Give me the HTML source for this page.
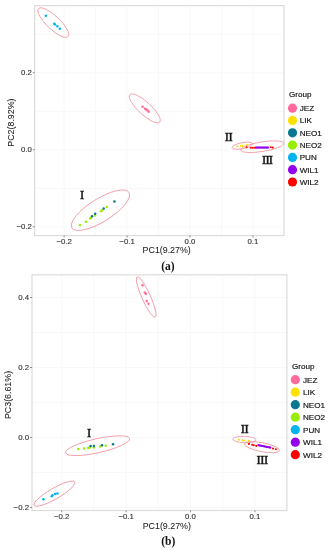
<!DOCTYPE html>
<html><head><meta charset="utf-8"><title>PCA plots</title>
<style>
html,body{margin:0;padding:0;background:#fff;}
body{width:329px;height:550px;overflow:hidden;}
svg{display:block;}
.tk{font-family:"Liberation Sans", Arial, sans-serif;font-size:7.8px;fill:#333333;stroke:#333333;stroke-width:0.12px;}
.at{font-family:"Liberation Sans", Arial, sans-serif;font-size:8.85px;fill:#1a1a1a;stroke:#1a1a1a;stroke-width:0.05px;}
.lg{font-family:"Liberation Sans", Arial, sans-serif;font-size:8.1px;fill:#151515;stroke:#151515;stroke-width:0.18px;}
.rn{font-family:"Liberation Serif", "Times New Roman", serif;font-size:12.6px;fill:#111;stroke:#111;stroke-width:0.45px;}
.pl{font-family:"Liberation Serif", "Times New Roman", serif;font-size:11.5px;fill:#111;font-weight:bold;}
</style></head><body>
<svg width="329" height="550" viewBox="0 0 329 550">
<rect width="329" height="550" fill="#fff"/>
<line x1="95.61" y1="5.6" x2="95.61" y2="235.6" stroke="#F6F6F6" stroke-width="0.8"/>
<line x1="158.53" y1="5.6" x2="158.53" y2="235.6" stroke="#F6F6F6" stroke-width="0.8"/>
<line x1="221.47" y1="5.6" x2="221.47" y2="235.6" stroke="#F6F6F6" stroke-width="0.8"/>
<line x1="34.6" y1="34.25" x2="284.0" y2="34.25" stroke="#F6F6F6" stroke-width="0.8"/>
<line x1="34.6" y1="111.25" x2="284.0" y2="111.25" stroke="#F6F6F6" stroke-width="0.8"/>
<line x1="34.6" y1="188.25" x2="284.0" y2="188.25" stroke="#F6F6F6" stroke-width="0.8"/>
<line x1="64.14" y1="5.6" x2="64.14" y2="235.6" stroke="#F6F6F6" stroke-width="0.8"/>
<line x1="127.07" y1="5.6" x2="127.07" y2="235.6" stroke="#F6F6F6" stroke-width="0.8"/>
<line x1="190.0" y1="5.6" x2="190.0" y2="235.6" stroke="#F6F6F6" stroke-width="0.8"/>
<line x1="252.93" y1="5.6" x2="252.93" y2="235.6" stroke="#F6F6F6" stroke-width="0.8"/>
<line x1="34.6" y1="72.75" x2="284.0" y2="72.75" stroke="#F6F6F6" stroke-width="0.8"/>
<line x1="34.6" y1="149.75" x2="284.0" y2="149.75" stroke="#F6F6F6" stroke-width="0.8"/>
<line x1="34.6" y1="226.75" x2="284.0" y2="226.75" stroke="#F6F6F6" stroke-width="0.8"/>
<rect x="34.6" y="5.6" width="249.4" height="230.0" fill="none" stroke="#DCDCDC" stroke-width="1.2"/>
<line x1="64.14" y1="235.6" x2="64.14" y2="237.4" stroke="#555" stroke-width="0.7"/>
<text x="64.14" y="243.8" text-anchor="middle" class="tk">&#8722;0.2</text>
<line x1="127.07" y1="235.6" x2="127.07" y2="237.4" stroke="#555" stroke-width="0.7"/>
<text x="127.07" y="243.8" text-anchor="middle" class="tk">&#8722;0.1</text>
<line x1="190.0" y1="235.6" x2="190.0" y2="237.4" stroke="#555" stroke-width="0.7"/>
<text x="190.0" y="243.8" text-anchor="middle" class="tk">0.0</text>
<line x1="252.93" y1="235.6" x2="252.93" y2="237.4" stroke="#555" stroke-width="0.7"/>
<text x="252.93" y="243.8" text-anchor="middle" class="tk">0.1</text>
<line x1="32.800000000000004" y1="72.75" x2="34.6" y2="72.75" stroke="#555" stroke-width="0.7"/>
<text x="31.9" y="75.35" text-anchor="end" class="tk">0.2</text>
<line x1="32.800000000000004" y1="149.75" x2="34.6" y2="149.75" stroke="#555" stroke-width="0.7"/>
<text x="31.9" y="152.35" text-anchor="end" class="tk">0.0</text>
<line x1="32.800000000000004" y1="226.75" x2="34.6" y2="226.75" stroke="#555" stroke-width="0.7"/>
<text x="31.9" y="229.35" text-anchor="end" class="tk">&#8722;0.2</text>
<text x="142.6" y="252.6" class="at">PC1(9.27%)</text>
<text transform="translate(14.4,122.6) rotate(-90)" text-anchor="middle" class="at">PC2(8.92%)</text>
<ellipse cx="53.3" cy="22.6" rx="20.3" ry="6.6" transform="rotate(43.5 53.3 22.6)" fill="none" stroke="#F08A96" stroke-width="0.75"/>
<ellipse cx="144.8" cy="108.4" rx="20.2" ry="6.3" transform="rotate(42.6 144.8 108.4)" fill="none" stroke="#F08A96" stroke-width="0.75"/>
<ellipse cx="100.5" cy="210.2" rx="33.6" ry="11.5" transform="rotate(-31.9 100.5 210.2)" fill="none" stroke="#F08A96" stroke-width="0.75"/>
<ellipse cx="242.2" cy="145.7" rx="10.4" ry="3.0" transform="rotate(-11 242.2 145.7)" fill="none" stroke="#F08A96" stroke-width="0.75"/>
<ellipse cx="262.2" cy="146.7" rx="21.8" ry="4.8" transform="rotate(-9 262.2 146.7)" fill="none" stroke="#F08A96" stroke-width="0.75"/>
<circle cx="45.8" cy="15.7" r="1.25" fill="#00B5EE"/>
<circle cx="54.2" cy="23.8" r="1.25" fill="#00B5EE"/>
<circle cx="55.0" cy="24.6" r="1.25" fill="#00B5EE"/>
<circle cx="57.4" cy="26.2" r="1.25" fill="#00B5EE"/>
<circle cx="59.8" cy="28.8" r="1.25" fill="#00B5EE"/>
<circle cx="142.6" cy="106.8" r="1.25" fill="#FF6A9C"/>
<circle cx="145.1" cy="108.7" r="1.25" fill="#FF6A9C"/>
<circle cx="146.3" cy="109.6" r="1.25" fill="#FF6A9C"/>
<circle cx="147.5" cy="110.5" r="1.25" fill="#FF6A9C"/>
<circle cx="148.7" cy="111.7" r="1.25" fill="#FF6A9C"/>
<circle cx="79.9" cy="225.0" r="1.25" fill="#99EE00"/>
<circle cx="85.9" cy="221.8" r="1.25" fill="#99EE00"/>
<circle cx="90.1" cy="218.6" r="1.25" fill="#99EE00"/>
<circle cx="91.0" cy="218.0" r="1.25" fill="#99EE00"/>
<circle cx="95.2" cy="215.4" r="1.25" fill="#99EE00"/>
<circle cx="101.2" cy="211.2" r="1.25" fill="#99EE00"/>
<circle cx="102.2" cy="210.1" r="1.25" fill="#99EE00"/>
<circle cx="106.9" cy="206.9" r="1.25" fill="#99EE00"/>
<circle cx="92.0" cy="216.3" r="1.25" fill="#0B7690"/>
<circle cx="95.2" cy="213.7" r="1.25" fill="#0B7690"/>
<circle cx="103.7" cy="208.4" r="1.25" fill="#0B7690"/>
<circle cx="114.4" cy="201.6" r="1.25" fill="#0B7690"/>
<circle cx="237.3" cy="146.2" r="1.05" fill="#FFE100"/>
<circle cx="240.9" cy="145.9" r="1.05" fill="#FFE100"/>
<circle cx="242.3" cy="145.9" r="1.05" fill="#FFE100"/>
<circle cx="246.9" cy="144.8" r="1.05" fill="#FFE100"/>
<circle cx="246.6" cy="147.3" r="1.05" fill="#FF0000"/>
<circle cx="250.7" cy="147.8" r="1.05" fill="#FF0000"/>
<circle cx="252.7" cy="147.8" r="1.05" fill="#FF0000"/>
<circle cx="254.7" cy="147.8" r="1.05" fill="#FF0000"/>
<circle cx="270.8" cy="147.3" r="1.05" fill="#FF0000"/>
<circle cx="272.8" cy="147.6" r="1.05" fill="#FF0000"/>
<circle cx="256.0" cy="147.6" r="1.1" fill="#9400EE"/>
<circle cx="257.0" cy="147.6" r="1.1" fill="#9400EE"/>
<circle cx="258.0" cy="147.6" r="1.1" fill="#9400EE"/>
<circle cx="259.0" cy="147.6" r="1.1" fill="#9400EE"/>
<circle cx="260.0" cy="147.6" r="1.1" fill="#9400EE"/>
<circle cx="261.0" cy="147.6" r="1.1" fill="#9400EE"/>
<circle cx="262.0" cy="147.6" r="1.1" fill="#9400EE"/>
<circle cx="263.0" cy="147.6" r="1.1" fill="#9400EE"/>
<circle cx="264.0" cy="147.6" r="1.1" fill="#9400EE"/>
<circle cx="265.0" cy="147.6" r="1.1" fill="#9400EE"/>
<circle cx="266.0" cy="147.6" r="1.1" fill="#9400EE"/>
<circle cx="267.0" cy="147.6" r="1.1" fill="#9400EE"/>
<circle cx="268.0" cy="147.6" r="1.1" fill="#9400EE"/>
<text x="79.9" y="198.6" class="rn" letter-spacing="0">I</text>
<text x="224.8" y="141.3" class="rn" letter-spacing="-0.5">II</text>
<text x="262.1" y="163.7" class="rn" letter-spacing="-0.9">III</text>
<text x="289.0" y="96.8" class="lg">Group</text>
<circle cx="292.5" cy="108.20" r="4.6" fill="#FF6A9C"/>
<text x="299.7" y="111.00" class="lg">JEZ</text>
<circle cx="292.5" cy="120.50" r="4.6" fill="#FFE100"/>
<text x="299.7" y="123.30" class="lg">LIK</text>
<circle cx="292.5" cy="132.80" r="4.6" fill="#0B7690"/>
<text x="299.7" y="135.60" class="lg">NEO1</text>
<circle cx="292.5" cy="145.10" r="4.6" fill="#99EE00"/>
<text x="299.7" y="147.90" class="lg">NEO2</text>
<circle cx="292.5" cy="157.40" r="4.6" fill="#00B5EE"/>
<text x="299.7" y="160.20" class="lg">PUN</text>
<circle cx="292.5" cy="169.70" r="4.6" fill="#9400EE"/>
<text x="299.7" y="172.50" class="lg">WIL1</text>
<circle cx="292.5" cy="182.00" r="4.6" fill="#FF0000"/>
<text x="299.7" y="184.80" class="lg">WIL2</text>
<line x1="93.9" y1="274.8" x2="93.9" y2="510.5" stroke="#F6F6F6" stroke-width="0.8"/>
<line x1="158.3" y1="274.8" x2="158.3" y2="510.5" stroke="#F6F6F6" stroke-width="0.8"/>
<line x1="222.7" y1="274.8" x2="222.7" y2="510.5" stroke="#F6F6F6" stroke-width="0.8"/>
<line x1="32.0" y1="332.5" x2="286.9" y2="332.5" stroke="#F6F6F6" stroke-width="0.8"/>
<line x1="32.0" y1="402.5" x2="286.9" y2="402.5" stroke="#F6F6F6" stroke-width="0.8"/>
<line x1="32.0" y1="472.5" x2="286.9" y2="472.5" stroke="#F6F6F6" stroke-width="0.8"/>
<line x1="61.7" y1="274.8" x2="61.7" y2="510.5" stroke="#F6F6F6" stroke-width="0.8"/>
<line x1="126.1" y1="274.8" x2="126.1" y2="510.5" stroke="#F6F6F6" stroke-width="0.8"/>
<line x1="190.5" y1="274.8" x2="190.5" y2="510.5" stroke="#F6F6F6" stroke-width="0.8"/>
<line x1="254.9" y1="274.8" x2="254.9" y2="510.5" stroke="#F6F6F6" stroke-width="0.8"/>
<line x1="32.0" y1="297.5" x2="286.9" y2="297.5" stroke="#F6F6F6" stroke-width="0.8"/>
<line x1="32.0" y1="367.5" x2="286.9" y2="367.5" stroke="#F6F6F6" stroke-width="0.8"/>
<line x1="32.0" y1="437.5" x2="286.9" y2="437.5" stroke="#F6F6F6" stroke-width="0.8"/>
<line x1="32.0" y1="507.5" x2="286.9" y2="507.5" stroke="#F6F6F6" stroke-width="0.8"/>
<rect x="32.0" y="274.8" width="254.89999999999998" height="235.7" fill="none" stroke="#DCDCDC" stroke-width="1.2"/>
<line x1="61.7" y1="510.5" x2="61.7" y2="512.3" stroke="#555" stroke-width="0.7"/>
<text x="61.7" y="518.9" text-anchor="middle" class="tk">&#8722;0.2</text>
<line x1="126.1" y1="510.5" x2="126.1" y2="512.3" stroke="#555" stroke-width="0.7"/>
<text x="126.1" y="518.9" text-anchor="middle" class="tk">&#8722;0.1</text>
<line x1="190.5" y1="510.5" x2="190.5" y2="512.3" stroke="#555" stroke-width="0.7"/>
<text x="190.5" y="518.9" text-anchor="middle" class="tk">0.0</text>
<line x1="254.9" y1="510.5" x2="254.9" y2="512.3" stroke="#555" stroke-width="0.7"/>
<text x="254.9" y="518.9" text-anchor="middle" class="tk">0.1</text>
<line x1="30.2" y1="297.5" x2="32.0" y2="297.5" stroke="#555" stroke-width="0.7"/>
<text x="29.0" y="300.1" text-anchor="end" class="tk">0.4</text>
<line x1="30.2" y1="367.5" x2="32.0" y2="367.5" stroke="#555" stroke-width="0.7"/>
<text x="29.0" y="370.1" text-anchor="end" class="tk">0.2</text>
<line x1="30.2" y1="437.5" x2="32.0" y2="437.5" stroke="#555" stroke-width="0.7"/>
<text x="29.0" y="440.1" text-anchor="end" class="tk">0.0</text>
<line x1="30.2" y1="507.5" x2="32.0" y2="507.5" stroke="#555" stroke-width="0.7"/>
<text x="29.0" y="510.1" text-anchor="end" class="tk">&#8722;0.2</text>
<text x="142.7" y="529.1" class="at">PC1(9.27%)</text>
<text transform="translate(10.8,395.0) rotate(-90)" text-anchor="middle" class="at">PC3(6.61%)</text>
<ellipse cx="146.2" cy="297.0" rx="22.0" ry="4.3" transform="rotate(65.9 146.2 297.0)" fill="none" stroke="#F08A96" stroke-width="0.75"/>
<ellipse cx="54.4" cy="493.7" rx="23.3" ry="5.4" transform="rotate(-30.0 54.4 493.7)" fill="none" stroke="#F08A96" stroke-width="0.75"/>
<ellipse cx="97.6" cy="445.7" rx="32.8" ry="7.0" transform="rotate(-12.5 97.6 445.7)" fill="none" stroke="#F08A96" stroke-width="0.75"/>
<ellipse cx="244.4" cy="439.5" rx="11.6" ry="3.2" transform="rotate(2 244.4 439.5)" fill="none" stroke="#F08A96" stroke-width="0.75"/>
<ellipse cx="262.0" cy="447.2" rx="17.9" ry="4.5" transform="rotate(11 262.0 447.2)" fill="none" stroke="#F08A96" stroke-width="0.75"/>
<circle cx="142.4" cy="285.3" r="1.25" fill="#FF6A9C"/>
<circle cx="144.8" cy="292.4" r="1.25" fill="#FF6A9C"/>
<circle cx="145.9" cy="293.8" r="1.25" fill="#FF6A9C"/>
<circle cx="146.6" cy="301.1" r="1.25" fill="#FF6A9C"/>
<circle cx="148.5" cy="303.8" r="1.25" fill="#FF6A9C"/>
<circle cx="43.4" cy="499.3" r="1.25" fill="#00B5EE"/>
<circle cx="51.7" cy="496.3" r="1.25" fill="#00B5EE"/>
<circle cx="52.5" cy="495.2" r="1.25" fill="#00B5EE"/>
<circle cx="55.1" cy="494.0" r="1.25" fill="#00B5EE"/>
<circle cx="57.4" cy="493.5" r="1.25" fill="#00B5EE"/>
<circle cx="78.2" cy="449.0" r="1.25" fill="#99EE00"/>
<circle cx="84.2" cy="448.5" r="1.25" fill="#99EE00"/>
<circle cx="88.1" cy="448.1" r="1.25" fill="#99EE00"/>
<circle cx="89.5" cy="447.5" r="1.25" fill="#99EE00"/>
<circle cx="93.9" cy="447.5" r="1.25" fill="#99EE00"/>
<circle cx="100.1" cy="446.4" r="1.25" fill="#99EE00"/>
<circle cx="105.7" cy="445.8" r="1.25" fill="#99EE00"/>
<circle cx="90.6" cy="446.0" r="1.25" fill="#0B7690"/>
<circle cx="93.9" cy="446.0" r="1.25" fill="#0B7690"/>
<circle cx="102.0" cy="445.2" r="1.25" fill="#0B7690"/>
<circle cx="113.0" cy="444.2" r="1.25" fill="#0B7690"/>
<circle cx="239.0" cy="439.7" r="1.05" fill="#FFE100"/>
<circle cx="242.5" cy="440.2" r="1.05" fill="#FFE100"/>
<circle cx="244.1" cy="440.5" r="1.05" fill="#FFE100"/>
<circle cx="249.0" cy="440.9" r="1.05" fill="#FFE100"/>
<circle cx="249.0" cy="443.9" r="1.05" fill="#FF0000"/>
<circle cx="252.2" cy="444.8" r="1.05" fill="#FF0000"/>
<circle cx="253.8" cy="445.3" r="1.05" fill="#FF0000"/>
<circle cx="256.3" cy="445.9" r="1.05" fill="#FF0000"/>
<circle cx="273.0" cy="448.6" r="1.05" fill="#FF0000"/>
<circle cx="275.9" cy="449.3" r="1.05" fill="#FF0000"/>
<circle cx="258.4" cy="445.2" r="1.1" fill="#9400EE"/>
<circle cx="259.4" cy="445.4" r="1.1" fill="#9400EE"/>
<circle cx="260.4" cy="445.59999999999997" r="1.1" fill="#9400EE"/>
<circle cx="261.4" cy="445.8" r="1.1" fill="#9400EE"/>
<circle cx="262.4" cy="446.0" r="1.1" fill="#9400EE"/>
<circle cx="263.4" cy="446.2" r="1.1" fill="#9400EE"/>
<circle cx="264.4" cy="446.4" r="1.1" fill="#9400EE"/>
<circle cx="265.4" cy="446.59999999999997" r="1.1" fill="#9400EE"/>
<circle cx="266.4" cy="446.8" r="1.1" fill="#9400EE"/>
<circle cx="267.4" cy="447.0" r="1.1" fill="#9400EE"/>
<circle cx="268.4" cy="447.2" r="1.1" fill="#9400EE"/>
<circle cx="269.4" cy="447.4" r="1.1" fill="#9400EE"/>
<circle cx="270.4" cy="447.59999999999997" r="1.1" fill="#9400EE"/>
<text x="86.9" y="436.8" class="rn" letter-spacing="0">I</text>
<text x="240.8" y="433.1" class="rn" letter-spacing="-0.45">II</text>
<text x="256.4" y="464.3" class="rn" letter-spacing="-0.4">III</text>
<text x="292.0" y="368.8" class="lg">Group</text>
<circle cx="295.3" cy="379.70" r="4.6" fill="#FF6A9C"/>
<text x="303.0" y="382.50" class="lg">JEZ</text>
<circle cx="295.3" cy="392.20" r="4.6" fill="#FFE100"/>
<text x="303.0" y="395.00" class="lg">LIK</text>
<circle cx="295.3" cy="404.70" r="4.6" fill="#0B7690"/>
<text x="303.0" y="407.50" class="lg">NEO1</text>
<circle cx="295.3" cy="417.20" r="4.6" fill="#99EE00"/>
<text x="303.0" y="420.00" class="lg">NEO2</text>
<circle cx="295.3" cy="429.70" r="4.6" fill="#00B5EE"/>
<text x="303.0" y="432.50" class="lg">PUN</text>
<circle cx="295.3" cy="442.20" r="4.6" fill="#9400EE"/>
<text x="303.0" y="445.00" class="lg">WIL1</text>
<circle cx="295.3" cy="454.70" r="4.6" fill="#FF0000"/>
<text x="303.0" y="457.50" class="lg">WIL2</text>
<text x="167.9" y="269.6" text-anchor="middle" class="pl">(a)</text>
<text x="168.2" y="544.6" text-anchor="middle" class="pl">(b)</text>
</svg>
</body></html>
